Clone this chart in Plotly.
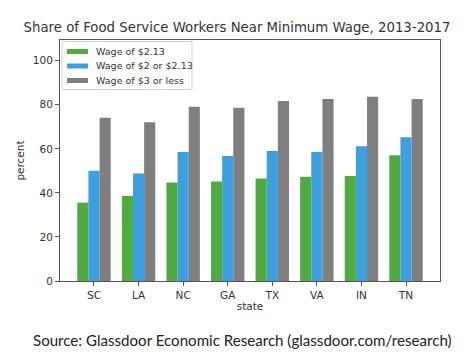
import plotly.graph_objects as go

states = ["SC", "LA", "NC", "GA", "TX", "VA", "IN", "TN"]
wage_213 = [35.6, 38.6, 44.7, 45.2, 46.5, 47.3, 47.7, 57.1]
wage_2_or_213 = [50.0, 48.8, 58.6, 56.7, 59.0, 58.6, 61.2, 65.2]
wage_3_or_less = [74.1, 72.1, 79.1, 78.6, 81.7, 82.6, 83.6, 82.6]
series_names = ["Wage of $2.13", "Wage of $2 or $2.13", "Wage of $3 or less"]
series_colors = ["#4fab3f", "#3b9fe0", "#7f7f7f"]
series_values = [wage_213, wage_2_or_213, wage_3_or_less]

W, H = 474, 358
ML, MR, MT, MB = 60, 34, 40, 77
PW, PH = W - ML - MR, H - MT - MB


def px(x):
    return (x - ML) / PW


def py(y):
    return (H - MB - y) / PH


fig = go.Figure()
for name, vals, color in zip(series_names, series_values, series_colors):
    fig.add_trace(go.Bar(x=states, y=vals, name=name, showlegend=False,
                         marker=dict(color=color, line=dict(width=0))))

shapes = [dict(type="rect", xref="paper", yref="paper", x0=px(62), x1=px(192), y0=py(89.5), y1=py(41.5),
               line=dict(color="#d0d0d0", width=1), fillcolor="rgba(255,255,255,0.85)", layer="above")]
annotations = []
row_y = [51.5, 66, 80.5]
for name, color, ry in zip(series_names, series_colors, row_y):
    shapes.append(dict(type="rect", xref="paper", yref="paper", x0=px(67), x1=px(88),
                       y0=py(ry + 2.5), y1=py(ry - 2.5), line=dict(width=0), fillcolor=color, layer="above"))
    annotations.append(dict(text=name, xref="paper", yref="paper", x=px(94), y=py(ry),
                            xanchor="left", yanchor="middle", showarrow=False,
                            font=dict(family="DejaVu Sans", size=9.5, color="#333333")))

annotations.append(dict(text="Source: Glassdoor Economic Research (glassdoor.com/research)",
                        xref="paper", yref="paper", x=0.48, y=-0.245, xanchor="center", yanchor="middle",
                        showarrow=False, font=dict(family="Lato", size=15.1, color="#222222")))

font_mpl = "DejaVu Sans"
fig.update_layout(
    width=W, height=H,
    margin=dict(l=ML, r=MR, t=MT, b=MB),
    paper_bgcolor="white", plot_bgcolor="white",
    barmode="group", bargap=0.25, bargroupgap=0,
    font=dict(family=font_mpl, size=10.5, color="#333333"),
    title=dict(text="Share of Food Service Workers Near Minimum Wage, 2013-2017",
               x=0.5, xanchor="center", y=0.925, yanchor="middle",
               font=dict(family=font_mpl, size=13.3, color="#333333")),
    xaxis=dict(title=dict(text="state", font=dict(size=10.5), standoff=3),
               range=[-0.7625, 7.7625], showline=True, linecolor="#555555", linewidth=1,
               mirror=True, ticks="outside", ticklen=4, tickcolor="#555555", showgrid=False),
    yaxis=dict(title=dict(text="percent", font=dict(size=10.5), standoff=6),
               range=[0, 109.4], tickvals=[0, 20, 40, 60, 80, 100],
               showline=True, linecolor="#555555", linewidth=1, mirror=True,
               ticks="outside", ticklen=4, tickcolor="#555555", showgrid=False, zeroline=False),
    showlegend=False,
    shapes=shapes,
    annotations=annotations,
)

fig.write_html("out.html")
